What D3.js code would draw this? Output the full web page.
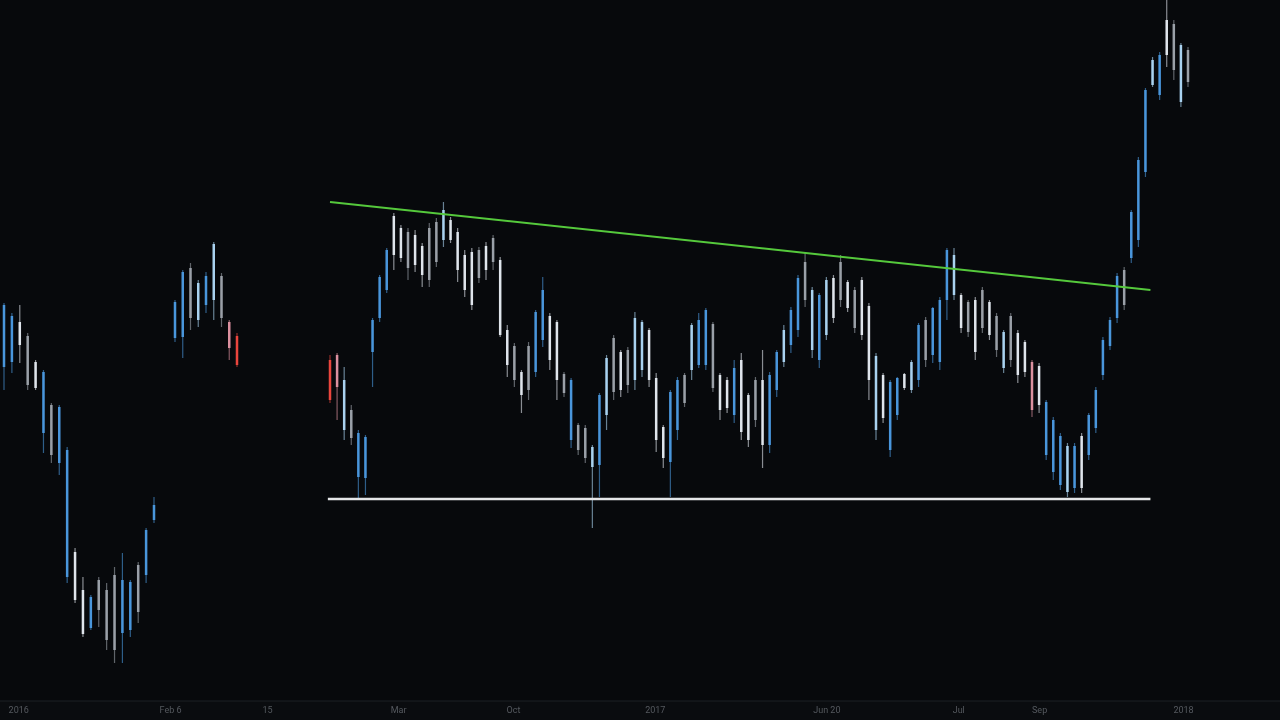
<!DOCTYPE html>
<html>
<head>
<meta charset="utf-8">
<script src="https://cdn.jsdelivr.net/npm/d3@7"></script>
<style>
  html, body { margin: 0; padding: 0; background: #07090c; }
  svg { display: block; }
</style>
</head>
<body>
<svg id="chart" width="1280" height="720"></svg>
<script>
// ---- DATA (prices in arbitrary index units) ----
// bar slots (time index); gaps are missing sessions
const slots = d3.range(0, 20).concat(d3.range(22, 31), d3.range(43, 165));

const tones = [
  // left segment
  "b","b","w","g","w","b","g","b","b","w","w","b","g","g","g","b","b","g","b","b",
  // middle segment
  "b","b","g","l","b","l","g","p","r",
  // main segment
  "r","p","l","g","b","b","b","b","b","w","w","g","w","w","g","g","l","w","w","w",
  "w","g","w","g","w","w","g","w","g","b","b","w","w","g","b","g","g","l","b","l",
  "g","w","g","l","l","w","w","w","b","b","g","l","b","b","g","w","w","b","w","w",
  "g","w","b","b","l","b","b","g","l","b","l","w","g","w","g","w","w","l","w","b",
  "b","w","l","b","g","b","b","b","l","w","g","w","g","w","g","l","g","w","w","p",
  "w","b","b","b","l","b","w","b","b","b","b","b","g","b","b","b","l","b","w","g",
  "l","g"
];

const highs = [
  417,407,415,387,360,350,317,315,273,172,143,125,143,137,153,167,140,158,192,223,
  420,450,457,440,448,478,447,400,387,
  365,367,353,315,290,285,402,445,472,507,495,492,490,477,497,502,518,503,492,470,
  472,473,478,485,463,395,377,350,378,410,443,407,400,348,342,297,295,275,327,365,
  385,370,373,408,400,392,347,295,330,343,347,397,407,412,398,347,343,360,367,327,
  343,370,348,370,395,413,445,467,433,427,443,445,465,440,433,443,417,367,347,340,
  343,347,360,397,403,413,423,472,472,427,420,423,433,420,407,390,407,390,380,360,
  357,320,303,287,277,277,287,307,333,383,403,447,453,510,563,632,663,668,720,700,
  677,673
];

const lows = [
  330,347,357,330,330,267,257,245,137,117,83,90,93,70,57,57,83,97,137,197,
  378,362,390,393,407,400,393,360,353,
  317,300,280,275,220,225,333,398,427,450,458,440,448,433,433,453,473,477,438,423,
  410,437,440,450,383,343,333,307,320,343,373,350,320,323,272,265,257,192,223,290,
  320,323,327,330,343,333,268,252,223,280,313,340,352,350,328,300,307,297,280,273,
  293,252,267,323,353,367,383,413,362,352,380,397,413,408,387,380,320,280,297,263,
  300,330,327,333,353,357,350,400,420,387,383,360,387,380,363,347,353,337,343,303,
  307,260,240,230,223,227,227,260,287,340,370,397,410,457,473,543,633,620,653,640,
  613,633
];

const opens = [
  353,358,398,384,358,287,315,257,143,168,130,92,140,130,145,87,90,155,145,200,
  382,383,452,400,415,420,444,398,384,
  360,365,290,310,243,242,368,402,430,504,492,488,485,474,492,498,480,500,488,465,
  468,470,474,482,460,390,374,348,374,348,380,404,398,346,280,295,292,253,255,305,
  382,368,370,340,350,390,342,293,258,290,345,350,355,355,396,345,340,305,360,325,
  340,340,275,330,358,375,390,458,370,360,385,442,458,438,430,440,414,290,345,270,
  305,346,330,340,400,365,358,420,425,425,418,420,430,418,404,352,404,387,378,358,
  354,265,248,235,228,232,284,265,292,345,374,402,450,462,480,548,635,625,700,696,
  618,670
];

const closes = [
  415,404,375,335,332,348,265,313,270,120,86,123,110,80,70,140,138,108,190,215,
  418,448,402,437,444,476,402,372,355,
  320,333,340,282,287,283,400,443,470,465,462,452,455,445,440,458,510,480,450,430,
  415,442,450,458,385,355,340,325,330,408,430,360,340,327,340,270,262,273,325,362,
  328,330,335,402,398,340,280,262,328,340,317,395,400,410,332,310,312,352,288,280,
  300,275,345,368,390,410,442,420,430,425,440,402,420,412,392,385,340,364,302,338,
  342,332,358,395,360,412,420,470,465,392,388,368,392,385,370,388,360,345,348,310,
  315,318,300,284,274,274,232,305,330,380,400,444,415,508,560,630,660,665,665,650,
  675,638
];

const tickSlots  = [1.8, 21.3, 34.2, 52.6, 68.8, 88.8, 113, 131.6, 143, 163.3];
const tickLabels = ["2016", "Feb 6", "15", "Mar", "Oct", "2017", "Jun 20", "Jul", "Sep", "2018"];

const trendSlots       = [43, 158.7];
const supportSlots     = [42.7, 158.7];
const resistancePrices = [518, 430];
const supportPrices    = [221, 221];

// ---- BUILD ----
const W = 1280, H = 720;
const svg = d3.select("#chart");

const toneColor = {
  b: "#4a96dc", l: "#a9d2f0", w: "#dfe5ec", g: "#9aa0a8", r: "#ea443e", p: "#db909f"
};

const x = d3.scaleLinear()
  .domain([0, 19, 22, 30, 43, 164])
  .range([4, 154, 175, 237, 330, 1188]);

const y = d3.scaleLinear().domain([0, 720]).range([720, 0]);

const candles = slots.map((s, i) => ({
  slot: s, tone: tones[i], high: highs[i], low: lows[i], open: opens[i], close: closes[i]
}));

// background
svg.append("rect").attr("width", W).attr("height", H).attr("fill", "#07090c");
svg.append("rect").attr("y", 701).attr("width", W).attr("height", 19).attr("fill", "#0a0c0f");

const defs = svg.append("defs");
defs.append("filter").attr("id", "soft")
  .attr("x", "-50%").attr("y", "-10%").attr("width", "200%").attr("height", "120%")
  .append("feGaussianBlur").attr("stdDeviation", 0.55);
defs.append("filter").attr("id", "softText")
  .append("feGaussianBlur").attr("stdDeviation", 0.5);

const g = svg.append("g").attr("filter", "url(#soft)");

// wicks
g.selectAll("line.wick").data(candles).join("line")
  .attr("class", "wick")
  .attr("x1", d => x(d.slot)).attr("x2", d => x(d.slot))
  .attr("y1", d => y(d.high)).attr("y2", d => y(d.low))
  .attr("stroke", d => toneColor[d.tone])
  .attr("stroke-opacity", 0.6)
  .attr("stroke-width", 1.2);

// bodies
const bw = 2.5;
g.selectAll("rect.body").data(candles).join("rect")
  .attr("class", "body")
  .attr("x", d => x(d.slot) - bw / 2)
  .attr("width", bw)
  .attr("y", d => y(Math.max(d.open, d.close)))
  .attr("height", d => Math.max(1, Math.abs(y(d.open) - y(d.close))))
  .attr("fill", d => toneColor[d.tone]);

// support (white) and resistance (green) lines
const lineGen = d3.line().x(d => x(d[0])).y(d => y(d[1]));
svg.append("path")
  .attr("d", lineGen(supportSlots.map((s, i) => [s, supportPrices[i]])))
  .attr("stroke", "#e4e6e8").attr("stroke-width", 2.6).attr("fill", "none");
svg.append("path")
  .attr("d", lineGen(trendSlots.map((s, i) => [s, resistancePrices[i]])))
  .attr("stroke", "#55c93c").attr("stroke-width", 2).attr("fill", "none");

// bottom time axis
const axis = d3.axisBottom(x)
  .tickValues(tickSlots)
  .tickFormat((d, i) => tickLabels[i])
  .tickSize(0)
  .tickPadding(6);
const ax = svg.append("g").attr("transform", "translate(0,701)").call(axis);
ax.select(".domain").attr("stroke", "#1d2125").attr("d", "M0,0H1280");
ax.selectAll("text")
  .attr("fill", "#54585e")
  .attr("filter", "url(#softText)")
  .style("font-family", "Roboto, 'DejaVu Sans', sans-serif")
  .style("font-size", "9px");
</script>
</body>
</html>
